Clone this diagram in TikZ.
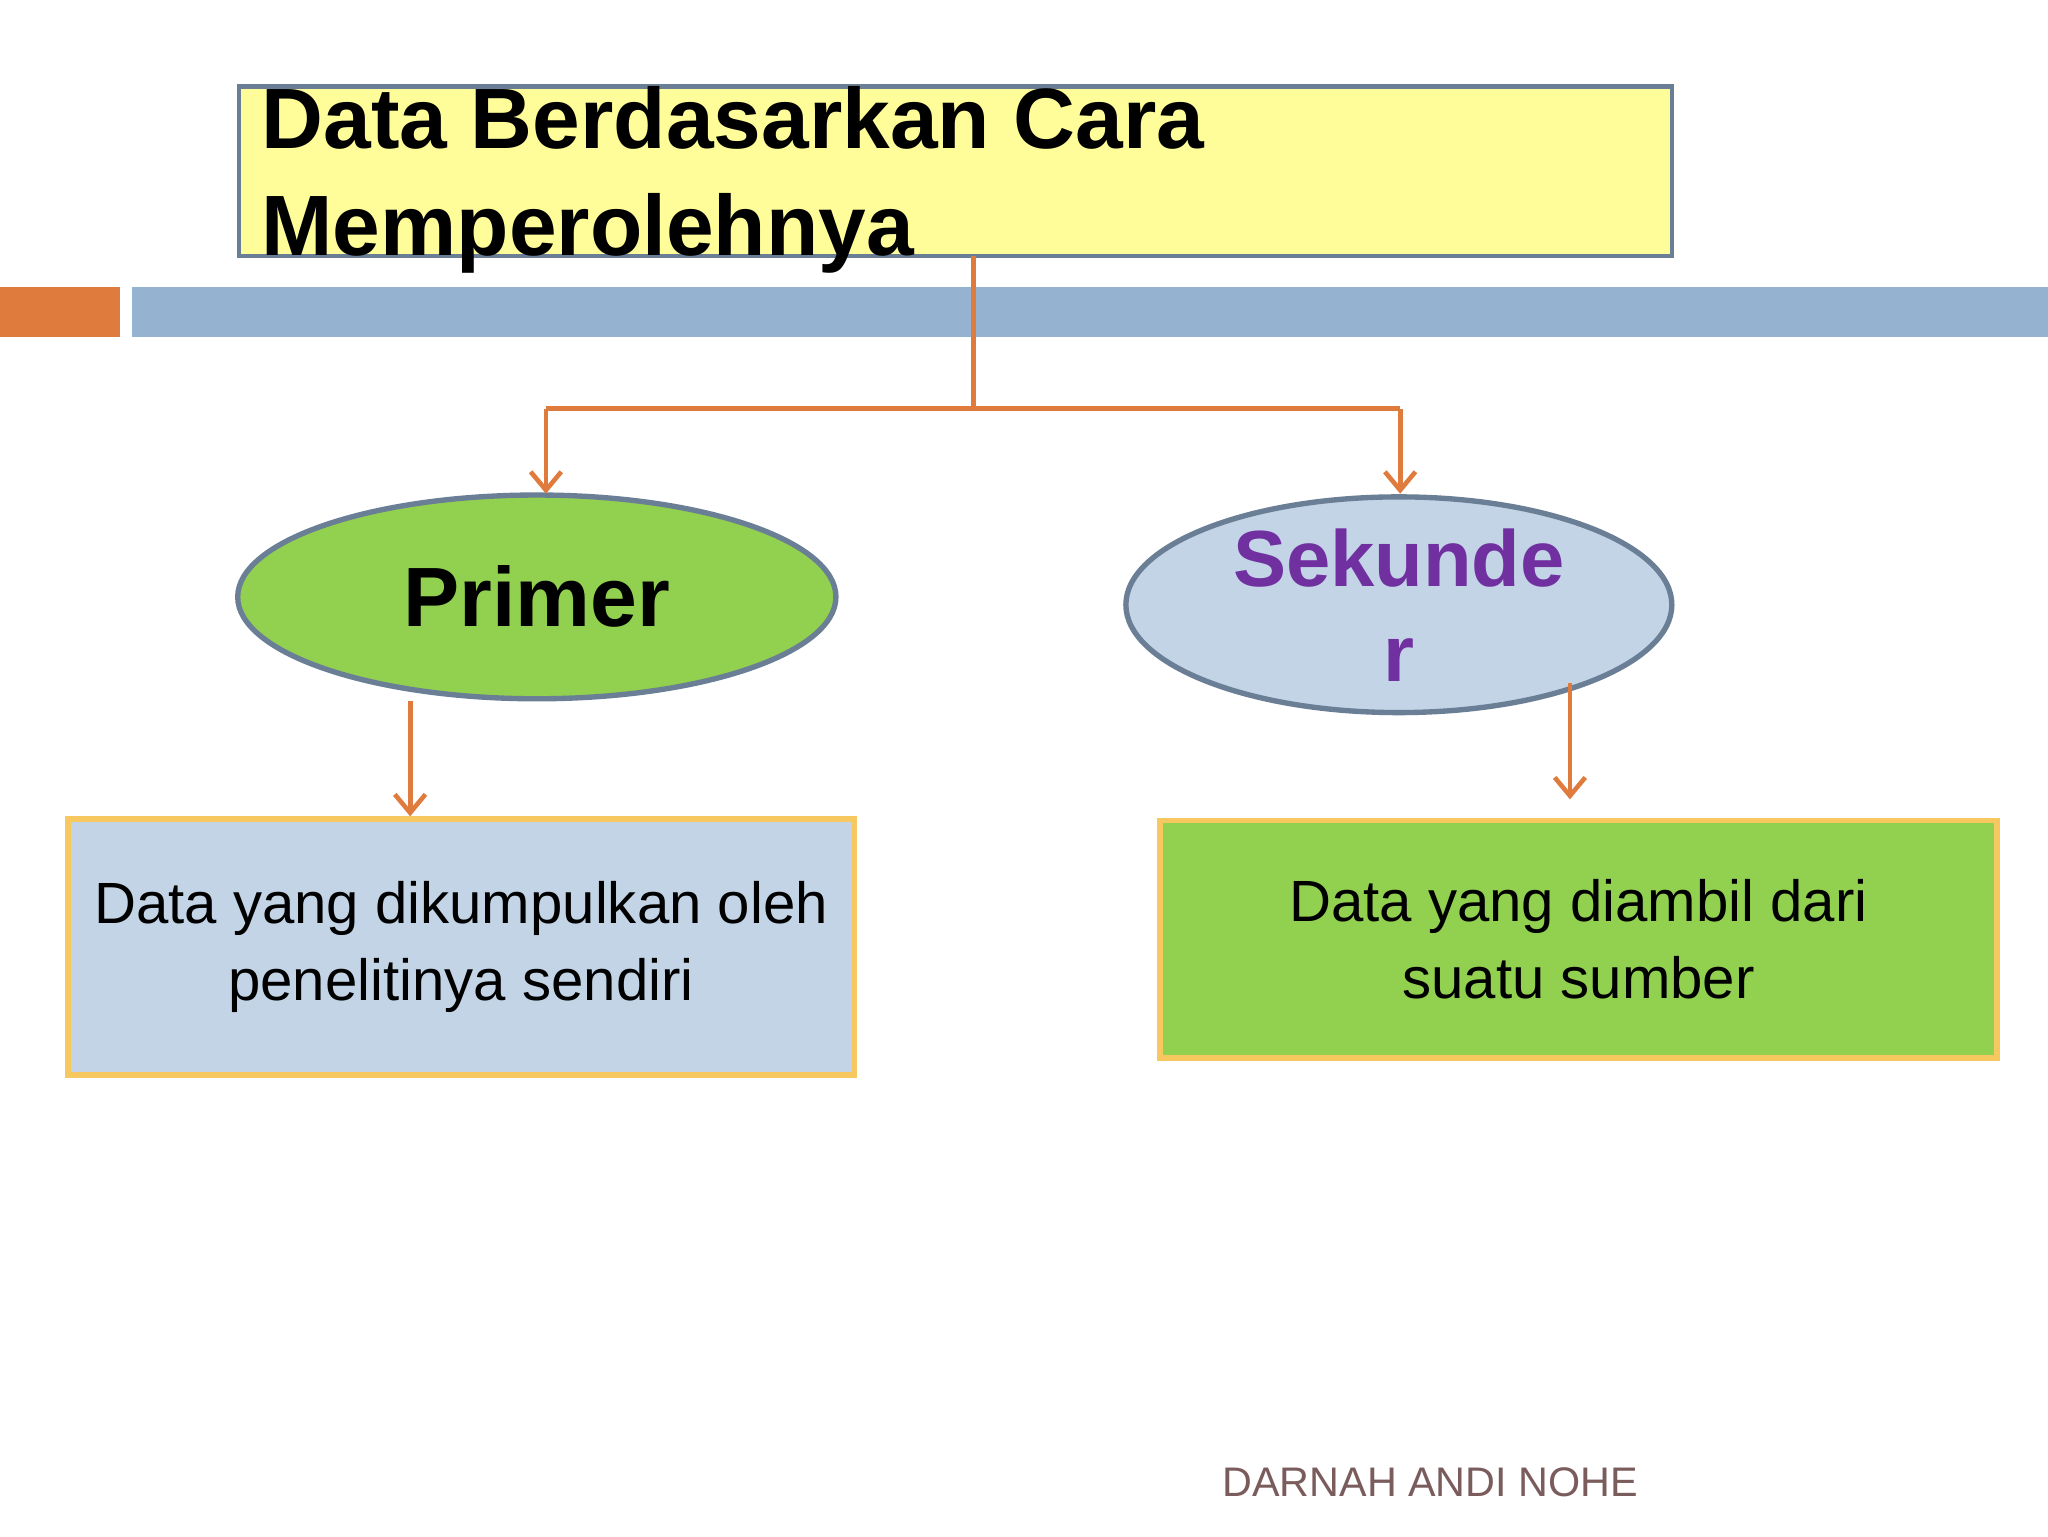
\documentclass[tikz,border=0pt]{standalone}
\usepackage{fontspec}
\setmainfont{Liberation Sans}
\usetikzlibrary{arrows.meta,shapes.geometric}
\definecolor{ttl}{HTML}{FFFD99}
\definecolor{edge}{HTML}{6A7F96}
\definecolor{orng}{HTML}{E07B3E}
\definecolor{bar}{HTML}{95B3D0}
\definecolor{grn}{HTML}{92D050}
\definecolor{lblue}{HTML}{C2D4E6}
\definecolor{gold}{HTML}{F8C860}
\definecolor{purp}{HTML}{7030A0}
\definecolor{foot}{HTML}{7A5C5C}
\tikzset{
  conn/.style={draw=orng,line width=3.2pt},
  arr/.style={conn,-{Straight Barb[length=12pt,width=20pt,line width=3pt]}},
  ell/.style={ellipse,draw=edge,line width=3.5pt,inner sep=0pt},
  txtbox/.style={draw=gold,line width=3.5pt,align=center,font=\fontsize{38}{50}\selectfont}
}
\begin{document}
\begin{tikzpicture}[x=0.03cm,y=-0.03cm]
\useasboundingbox (0,0) rectangle (1568,1176);
\fill[white] (0,0) rectangle (1568,1176);
\fill[orng] (0,220) rectangle (92,258);
\fill[bar] (101,220) rectangle (1568,258);
\draw[draw=edge,fill=ttl,line width=3pt] (183,66) rectangle (1280,196);
\node[anchor=north west,align=left,inner sep=0pt,font=\fontsize{56}{70}\bfseries\selectfont] (title) at (200,66) {Data Berdasarkan Cara\\Memperolehnya};
\node[ell,fill=grn,minimum width=458\pgflinewidth*0+458*0.03cm,minimum height=156*0.03cm,font=\fontsize{55}{60}\bfseries\selectfont] (primer) at (411,457) {Primer};
\node[ell,fill=lblue,minimum width=418*0.03cm,minimum height=144*0.03cm,text=purp,align=center,font=\fontsize{52}{62}\bfseries\selectfont] (sek) at (1071,463) {Sekunde\\r};
\node[txtbox,fill=lblue,minimum width=602*0.03cm,minimum height=196*0.03cm] (bl) at (353,725) {Data yang dikumpulkan oleh\\penelitinya sendiri};
\node[txtbox,fill=grn,minimum width=641*0.03cm,minimum height=182*0.03cm] (br) at (1208.5,719) {Data yang diambil dari\\suatu sumber};
\node[font=\fontsize{27}{30}\selectfont,text=foot] (ft) at (1095,1135) {DARNAH ANDI NOHE};
\coordinate (t0) at (745,196);
\coordinate (j) at (745,313);
\coordinate (l0) at (418,313);
\coordinate (r0) at (1072,313);
\draw[conn] (t0) -- (j);
\draw[conn] (l0) -- (r0);
\draw[arr] (l0) -- (418,378);
\draw[arr] (r0) -- (1072,378);
\draw[arr] (314,537) -- (314,625);
\draw[arr] (1202,523) -- (1202,612);
\end{tikzpicture}
\end{document}
